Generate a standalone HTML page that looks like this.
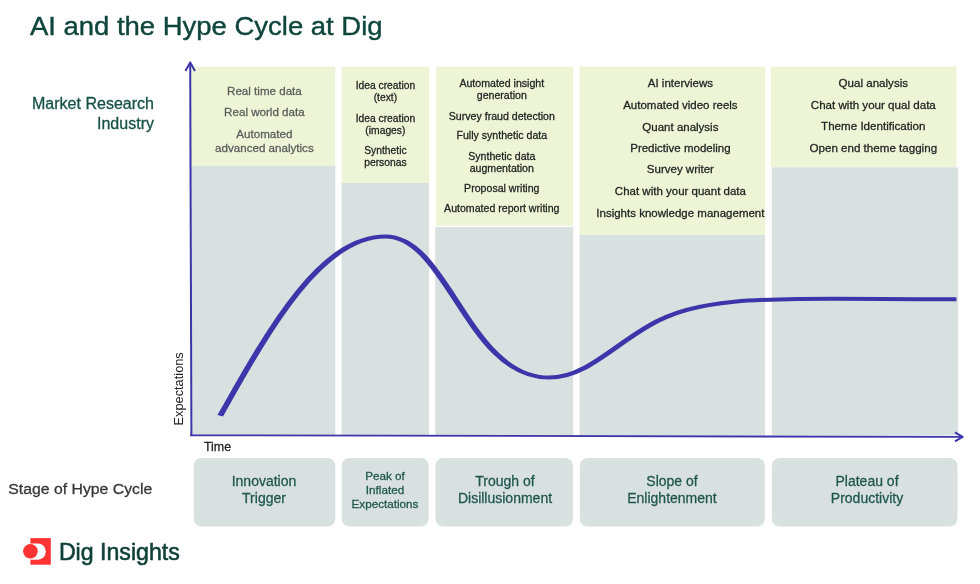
<!DOCTYPE html>
<html><head><meta charset="utf-8"><style>
html,body{margin:0;padding:0;background:#fff;width:980px;height:584px;overflow:hidden}
svg{display:block;font-family:"Liberation Sans", sans-serif;will-change:transform}
</style></head><body>
<svg width="980" height="584" viewBox="0 0 980 584">
<rect x="191" y="66.6" width="144.30" height="99.20" rx="0" fill="#EEF5D6"/>
<rect x="191" y="165.8" width="144.30" height="269.50" rx="0" fill="#D9E0E0"/>
<rect x="341.6" y="66.6" width="87.50" height="116.40" rx="0" fill="#EEF5D6"/>
<rect x="341.6" y="183" width="87.50" height="252.30" rx="0" fill="#D9E0E0"/>
<rect x="436.1" y="66.6" width="137.10" height="159.20" rx="0" fill="#EEF5D6"/>
<rect x="435.2" y="227.0" width="138.00" height="208.30" rx="0" fill="#D9E0E0"/>
<rect x="579.5" y="66.6" width="185.60" height="168.40" rx="0" fill="#EEF5D6"/>
<rect x="579.5" y="235" width="185.60" height="200.30" rx="0" fill="#D9E0E0"/>
<rect x="770.7" y="66.6" width="185.90" height="100.70" rx="0" fill="#EEF5D6"/>
<rect x="771.75" y="167.3" width="186.45" height="268.00" rx="0" fill="#D9E0E0"/>
<rect x="193.7" y="458" width="141.60" height="68.60" rx="8" fill="#D9E0E0"/>
<rect x="341.7" y="458" width="87.00" height="68.60" rx="8" fill="#D9E0E0"/>
<rect x="435.4" y="458" width="137.70" height="68.60" rx="8" fill="#D9E0E0"/>
<rect x="579.8" y="458" width="185.10" height="68.60" rx="8" fill="#D9E0E0"/>
<rect x="771.8" y="458" width="185.70" height="68.60" rx="8" fill="#D9E0E0"/>
<g transform="scale(1.5,1)"><path d="M 146.833,415.760 C 180.953,324.260 214.727,236.540 256.980,236.540 C 298.773,236.540 311.940,377.620 366.127,377.620 C 389.560,377.620 407.660,347.260 432.027,326.170 C 469.973,293.320 513.033,299.200 637.600,299.200" fill="none" stroke="#3D35AA" stroke-width="4" stroke-linecap="butt"/></g>
<path d="M191.4,436 L190.2,63" stroke="#3D35AA" stroke-width="2" fill="none"/>
<path d="M185.4,71 L190.2,62.4 L195,71" stroke="#3D35AA" stroke-width="2" fill="none" stroke-linejoin="round"/>
<path d="M190,435.3 L961,436.9" stroke="#3D35AA" stroke-width="1.8" fill="none"/>
<path d="M955,432.4 L962.6,436.9 L955,441.4" stroke="#3D35AA" stroke-width="2" fill="none" stroke-linejoin="round"/>
<text x="0" y="0" font-size="25.9" fill="#0E463C" stroke="#0E463C" stroke-width="0.38" text-anchor="start" transform="translate(29.9,35.2) scale(1.061,1)">AI and the Hype Cycle at Dig</text>
<text x="154" y="109" font-size="16.05" fill="#175147" stroke="#175147" stroke-width="0.3" text-anchor="end" >Market Research</text>
<text x="154" y="129" font-size="16.05" fill="#175147" stroke="#175147" stroke-width="0.3" text-anchor="end" >Industry</text>
<text x="0" y="0" font-size="15.4" fill="#363636" stroke="#363636" stroke-width="0.28" text-anchor="start" transform="translate(8.3,493.6) scale(1.026,1)">Stage of Hype Cycle</text>
<text x="204" y="450.7" font-size="12.4" fill="#222222" stroke="#222222" stroke-width="0.28" text-anchor="start" >Time</text>
<text x="0" y="0" font-size="12.8" fill="#222222" text-anchor="start" transform="translate(183.2,425.5) rotate(-90)">Expectations</text>
<text x="264.4" y="94.8" font-size="11.6" fill="#5C5C5C" stroke="#5C5C5C" stroke-width="0.28" text-anchor="middle" >Real time data</text>
<text x="264.4" y="115.9" font-size="11.6" fill="#5C5C5C" stroke="#5C5C5C" stroke-width="0.28" text-anchor="middle" >Real world data</text>
<text x="264.4" y="137.6" font-size="11.6" fill="#5C5C5C" stroke="#5C5C5C" stroke-width="0.28" text-anchor="middle" >Automated</text>
<text x="264.4" y="151.7" font-size="11.6" fill="#5C5C5C" stroke="#5C5C5C" stroke-width="0.28" text-anchor="middle" >advanced analytics</text>
<text x="385.4" y="89.3" font-size="10.3" fill="#242424" stroke="#242424" stroke-width="0.28" text-anchor="middle" >Idea creation</text>
<text x="385.4" y="101.2" font-size="10.3" fill="#242424" stroke="#242424" stroke-width="0.28" text-anchor="middle" >(text)</text>
<text x="385.4" y="121.8" font-size="10.3" fill="#242424" stroke="#242424" stroke-width="0.28" text-anchor="middle" >Idea creation</text>
<text x="385.4" y="133.7" font-size="10.3" fill="#242424" stroke="#242424" stroke-width="0.28" text-anchor="middle" >(images)</text>
<text x="385.4" y="154.3" font-size="10.3" fill="#242424" stroke="#242424" stroke-width="0.28" text-anchor="middle" >Synthetic</text>
<text x="385.4" y="166.2" font-size="10.3" fill="#242424" stroke="#242424" stroke-width="0.28" text-anchor="middle" >personas</text>
<text x="501.8" y="87.2" font-size="10.6" fill="#242424" stroke="#242424" stroke-width="0.28" text-anchor="middle" >Automated insight</text>
<text x="501.8" y="99.2" font-size="10.6" fill="#242424" stroke="#242424" stroke-width="0.28" text-anchor="middle" >generation</text>
<text x="501.8" y="119.7" font-size="10.6" fill="#242424" stroke="#242424" stroke-width="0.28" text-anchor="middle" >Survey fraud detection</text>
<text x="501.8" y="139.4" font-size="10.6" fill="#242424" stroke="#242424" stroke-width="0.28" text-anchor="middle" >Fully synthetic data</text>
<text x="501.8" y="159.5" font-size="10.6" fill="#242424" stroke="#242424" stroke-width="0.28" text-anchor="middle" >Synthetic data</text>
<text x="501.8" y="171.5" font-size="10.6" fill="#242424" stroke="#242424" stroke-width="0.28" text-anchor="middle" >augmentation</text>
<text x="501.8" y="191.6" font-size="10.6" fill="#242424" stroke="#242424" stroke-width="0.28" text-anchor="middle" >Proposal writing</text>
<text x="501.8" y="211.9" font-size="10.6" fill="#242424" stroke="#242424" stroke-width="0.28" text-anchor="middle" >Automated report writing</text>
<text x="680.4" y="87.2" font-size="11.5" fill="#242424" stroke="#242424" stroke-width="0.28" text-anchor="middle" >AI interviews</text>
<text x="680.4" y="108.7" font-size="11.5" fill="#242424" stroke="#242424" stroke-width="0.28" text-anchor="middle" >Automated video reels</text>
<text x="680.4" y="130.5" font-size="11.5" fill="#242424" stroke="#242424" stroke-width="0.28" text-anchor="middle" >Quant analysis</text>
<text x="680.4" y="151.7" font-size="11.5" fill="#242424" stroke="#242424" stroke-width="0.28" text-anchor="middle" >Predictive modeling</text>
<text x="680.4" y="173.4" font-size="11.5" fill="#242424" stroke="#242424" stroke-width="0.28" text-anchor="middle" >Survey writer</text>
<text x="680.4" y="195.2" font-size="11.5" fill="#242424" stroke="#242424" stroke-width="0.28" text-anchor="middle" >Chat with your quant data</text>
<text x="680.4" y="216.7" font-size="11.5" fill="#242424" stroke="#242424" stroke-width="0.28" text-anchor="middle" >Insights knowledge management</text>
<text x="873.3" y="86.9" font-size="11.6" fill="#242424" stroke="#242424" stroke-width="0.28" text-anchor="middle" >Qual analysis</text>
<text x="873.3" y="108.5" font-size="11.6" fill="#242424" stroke="#242424" stroke-width="0.28" text-anchor="middle" >Chat with your qual data</text>
<text x="873.3" y="130.1" font-size="11.6" fill="#242424" stroke="#242424" stroke-width="0.28" text-anchor="middle" >Theme Identification</text>
<text x="873.3" y="151.7" font-size="11.6" fill="#242424" stroke="#242424" stroke-width="0.28" text-anchor="middle" >Open end theme tagging</text>
<text x="264" y="485.7" font-size="14" fill="#1E574D" stroke="#1E574D" stroke-width="0.28" text-anchor="middle" >Innovation</text>
<text x="264" y="502.6" font-size="14" fill="#1E574D" stroke="#1E574D" stroke-width="0.28" text-anchor="middle" >Trigger</text>
<text x="385" y="479.6" font-size="11.7" fill="#1E574D" stroke="#1E574D" stroke-width="0.28" text-anchor="middle" >Peak of</text>
<text x="385" y="493.6" font-size="11.7" fill="#1E574D" stroke="#1E574D" stroke-width="0.28" text-anchor="middle" >Inflated</text>
<text x="385" y="507.7" font-size="11.7" fill="#1E574D" stroke="#1E574D" stroke-width="0.28" text-anchor="middle" >Expectations</text>
<text x="505" y="486.2" font-size="14" fill="#1E574D" stroke="#1E574D" stroke-width="0.28" text-anchor="middle" >Trough of</text>
<text x="505" y="502.9" font-size="14" fill="#1E574D" stroke="#1E574D" stroke-width="0.28" text-anchor="middle" >Disillusionment</text>
<text x="672" y="485.8" font-size="14" fill="#1E574D" stroke="#1E574D" stroke-width="0.28" text-anchor="middle" >Slope of</text>
<text x="672" y="503.2" font-size="14" fill="#1E574D" stroke="#1E574D" stroke-width="0.28" text-anchor="middle" >Enlightenment</text>
<text x="867" y="485.8" font-size="14" fill="#1E574D" stroke="#1E574D" stroke-width="0.28" text-anchor="middle" >Plateau of</text>
<text x="867" y="503.2" font-size="14" fill="#1E574D" stroke="#1E574D" stroke-width="0.28" text-anchor="middle" >Productivity</text>
<rect x="30.4" y="538.1" width="20.4" height="26.6" fill="#FF3333"/>
<path d="M30.4,543.5 L38,543.5 A7.8,8.1 0 0 1 38,559.7 L30.4,559.7 Z" fill="#FFFFFF"/>
<circle cx="30.4" cy="551.3" r="7.3" fill="#FF3333"/>
<text x="0" y="0" font-size="24.5" fill="#0D3F37" stroke="#0D3F37" stroke-width="0.6" transform="translate(58.9,560) scale(0.945,1)">Dig Insights</text>
</svg>
</body></html>
